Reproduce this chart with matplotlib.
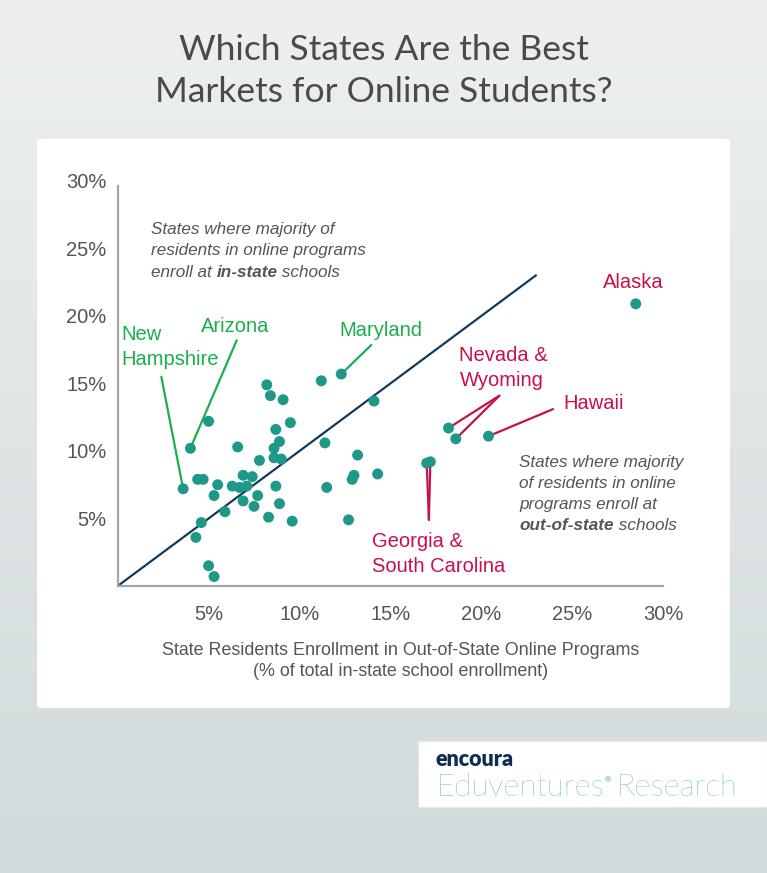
import numpy as np
import matplotlib.pyplot as plt
from matplotlib.colors import LinearSegmentedColormap
from matplotlib.patches import FancyBboxPatch, Rectangle

plt.rcParams['font.family'] = ['Liberation Sans', 'DejaVu Sans']

# labelled states first, the rest unnamed
states = ['Alaska', 'Hawaii', 'Nevada', 'Wyoming', 'Georgia', 'South Carolina',
          'Maryland', 'Arizona', 'New Hampshire'] + [''] * 42

# % of residents enrolled in out-of-state online programs
out_state = [28.5, 20.4, 18.2, 18.6, 17.0, 17.2, 12.3, 4.0, 3.6,
             8.2, 8.4, 9.1, 5.0, 9.5, 8.7, 8.9, 6.6, 8.6, 7.8,
             8.6, 9.0, 4.4, 4.7, 5.5, 6.9, 7.4, 6.3, 6.7, 7.1,
             5.3, 7.7, 8.7, 6.9, 7.5, 8.9, 5.9, 8.3, 9.6, 4.6,
             4.3, 5.0, 5.3, 11.2, 14.1, 11.4, 13.2, 14.3, 13.0, 12.9,
             11.5, 12.7]
# % of residents enrolled in in-state online programs
in_state = [20.9, 11.1, 11.7, 10.9, 9.1, 9.2, 15.7, 10.2, 7.2,
            14.9, 14.1, 13.8, 12.2, 12.1, 11.6, 10.7, 10.3, 10.2, 9.3,
            9.5, 9.4, 7.9, 7.9, 7.5, 8.2, 8.1, 7.4, 7.3, 7.4,
            6.7, 6.7, 7.4, 6.3, 5.9, 6.1, 5.5, 5.1, 4.8, 4.7,
            3.6, 1.5, 0.7, 15.2, 13.7, 10.6, 9.7, 8.3, 8.2, 7.9,
            7.3, 4.9]

diag_end = 23

# label layout: text lines, position of first line, leader start, states, colour
GREEN = '#1aae4c'
RED = '#c8104a'
label_layout = [
    (['New', 'Hampshire'], (0.2, 18.6), (2.4, 15.5), ['New Hampshire'], GREEN),
    (['Arizona'], (4.6, 19.2), (6.55, 18.2), ['Arizona'], GREEN),
    (['Maryland'], (12.2, 18.95), (13.95, 17.85), ['Maryland'], GREEN),
    (['Nevada &', 'Wyoming'], (18.8, 17.1), (21.0, 14.1), ['Nevada', 'Wyoming'], RED),
    (['Hawaii'], (24.5, 13.55), (23.95, 13.1), ['Hawaii'], RED),
    (['Alaska'], (26.7, 22.45), None, ['Alaska'], RED),
    (['Georgia &', 'South Carolina'], (14.0, 3.3), (17.12, 4.9), ['Georgia', 'South Carolina'], RED),
]
line_step = 1.85  # data units between label lines

fig = plt.figure(figsize=(7.67, 8.73), dpi=100)

# background, panels and title in pixel space
bg = fig.add_axes([0, 0, 1, 1], zorder=0)
cmap = LinearSegmentedColormap.from_list('bg', ['#eef0f0', '#d1dadb'])
bg.imshow(np.linspace(0, 1, 256).reshape(-1, 1), aspect='auto', cmap=cmap,
          extent=[0, 767, 873, 0])
bg.set_xlim(0, 767)
bg.set_ylim(873, 0)
bg.axis('off')
bg.add_patch(FancyBboxPatch((37, 139), 693, 569, boxstyle='round,pad=0,rounding_size=4',
                            fc='white', ec='none'))
bg.add_patch(Rectangle((418, 741), 349, 66, fc='white', ec='#e4e8e8', lw=0.8))

title_font = dict(family=['Lato', 'DejaVu Sans'], fontsize=25.5,
                  color='#4a4a4a', ha='center', va='center')
bg.text(383.5, 50, 'Which States Are the Best', **title_font)
bg.text(383.5, 92, 'Markets for Online Students?', **title_font)

bg.text(436, 760, 'encoura', family=['Lato', 'DejaVu Sans'], fontweight='heavy',
        fontsize=15.5, color='#0f2d50', va='center', ha='left')
logo = dict(family=['Lato', 'DejaVu Sans'], fontweight='light', fontsize=22.5,
            color='#2aa290')
t = bg.text(436, 787, 'Eduventures', va='center', ha='left', **logo)
bg.annotate('®', xy=(1, 0.72), xycoords=t, xytext=(1, 0), textcoords='offset points',
            va='center', ha='left', fontsize=6, color='#2aa290')
bg.annotate('Research', xy=(1, 0), xycoords=t, xytext=(9, 0), textcoords='offset points',
            va='bottom', ha='left', **logo)

bg.text(401, 661, 'State Residents Enrollment in Out-of-State Online Programs\n'
        '(% of total in-state school enrollment)', fontsize=12.9, color='#555555',
        ha='center', va='center', linespacing=1.25)

# main chart
ax = fig.add_axes([117.7 / 767, 1 - 586 / 873, (663 - 117.7) / 767, (586 - 181) / 873],
                  zorder=2)
ax.set_facecolor('none')
ax.set_xlim(0, 30)
ax.set_ylim(0, 30)
for side in ['top', 'right']:
    ax.spines[side].set_visible(False)
for side in ['left', 'bottom']:
    ax.spines[side].set_color('#a5a5a5')
    ax.spines[side].set_linewidth(1.6)
ax.spines['left'].set_bounds(0, 29.6)

ticks = [5, 10, 15, 20, 25, 30]
ax.set_xticks(ticks)
ax.set_yticks(ticks)
ax.set_xticklabels([f'{t}%' for t in ticks])
ax.set_yticklabels([f'{t}%' for t in ticks])
ax.tick_params(length=0, labelsize=14.5, colors='#555555')
ax.tick_params(axis='x', pad=14)
ax.tick_params(axis='y', pad=8)

ax.plot([0, diag_end], [0, diag_end], color='#123a5c', lw=1.6, zorder=2)
ax.scatter(out_state, in_state, s=62, color='#1f9987', edgecolors='none', zorder=4)

for lines, pos, start, names, col in label_layout:
    for k, line in enumerate(lines):
        ax.text(pos[0], pos[1] - k * line_step, line, fontsize=14.5, color=col,
                ha='left', va='center', zorder=5)
    if start is None:
        continue
    for name in names:
        i = states.index(name)
        ax.annotate('', xy=(out_state[i], in_state[i]), xytext=start,
                    arrowprops=dict(arrowstyle='-', color=col, lw=1.6,
                                    shrinkA=0, shrinkB=3), zorder=3)

# region notes with bold words
note = dict(fontsize=12.3, color='#555555', style='italic', va='center', ha='left')
ax.text(1.83, 26.4, 'States where majority of', **note)
ax.text(1.83, 24.85, 'residents in online programs', **note)
t = ax.text(1.83, 23.25, 'enroll at ', **note)
t = ax.annotate('in-state', xy=(1, 0), xycoords=t, va='bottom', ha='left',
                fontsize=12.3, color='#555555', style='italic', fontweight='bold')
ax.annotate(' schools', xy=(1, 0), xycoords=t, va='bottom', ha='left',
            fontsize=12.3, color='#555555', style='italic')

ax.text(22.1, 9.13, 'States where majority', **note)
ax.text(22.1, 7.58, 'of residents in online', **note)
ax.text(22.1, 6.05, 'programs enroll at', **note)
t = ax.text(22.1, 4.5, 'out-of-state', fontweight='bold', **note)
ax.annotate(' schools', xy=(1, 0), xycoords=t, va='bottom', ha='left',
            fontsize=12.3, color='#555555', style='italic')

fig.savefig('out.png', dpi=100)
